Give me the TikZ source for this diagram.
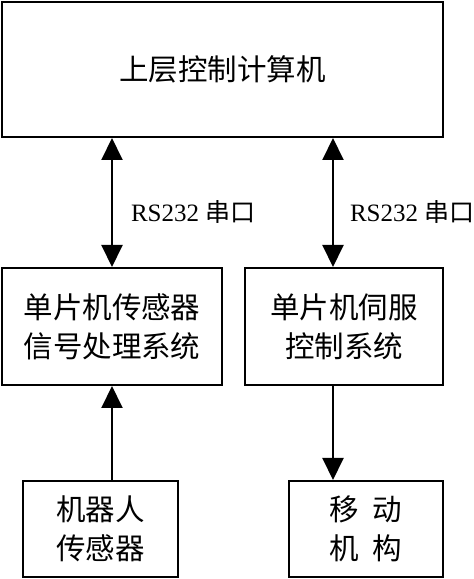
\documentclass[tikz,border=0pt]{standalone}
\usepackage{fontspec}
\setmainfont{Liberation Serif}
\newfontfamily\cjk{Noto Sans CJK SC}
\usetikzlibrary{positioning,calc,arrows.meta}

\begin{document}
\begin{tikzpicture}[x=1pt, y=1pt, >={Triangle[width=21pt,length=22pt]}, line width=2pt]

% boxes with centred CJK text, and the link labels
\tikzset{blk/.style={draw, line width=2pt, align=center, inner sep=0pt,
                     font=\cjk\fontsize{29.5}{39}\selectfont}}
\tikzset{lbl/.style={font=\fontsize{25}{30}\selectfont, inner sep=0pt, anchor=west}}

\useasboundingbox (0,0) rectangle (474,579);

% -----------------------------------------
% upper computer
% -----------------------------------------
\node[blk, minimum width=441pt, minimum height=135pt] (host) at (222.5,509.5) {上层控制计算机};

% -----------------------------------------
% the two MCU systems
% -----------------------------------------
\node[blk, minimum width=220pt, minimum height=117pt] (sensmcu) at (112,252.5)
  {单片机传感器\\信号处理系统};
\node[blk, minimum width=198pt, minimum height=117pt] (servomcu) at (344,252.5)
  {单片机伺服\\控制系统};

% -----------------------------------------
% sensor and actuator
% -----------------------------------------
\node[blk, minimum width=155pt, minimum height=96pt] (sensor) at (100.5,50)
  {机器人\\传感器};
\node[blk, minimum width=154pt, minimum height=96pt] (mover) at (366,50)
  {移\hspace{0.45em}动\\机\hspace{0.45em}构};

% serial links
\coordinate (rbus) at (333,0);
\draw[<->] (sensmcu.north |- host.south) -- (sensmcu.north)
  node[midway, lbl, xshift=18pt, yshift=-9pt] (lnkl) {RS232 {\cjk 串口}};
\draw[<->] (rbus |- host.south) -- (rbus |- servomcu.north)
  node[midway, lbl, xshift=16pt, yshift=-9pt] (lnkr) {RS232 {\cjk 串口}};

% signal and drive
\draw[->] (sensmcu.south |- sensor.north) -- (sensmcu.south);
\draw[->] (rbus |- servomcu.south) -- (rbus |- mover.north);
\end{tikzpicture}
\end{document}
